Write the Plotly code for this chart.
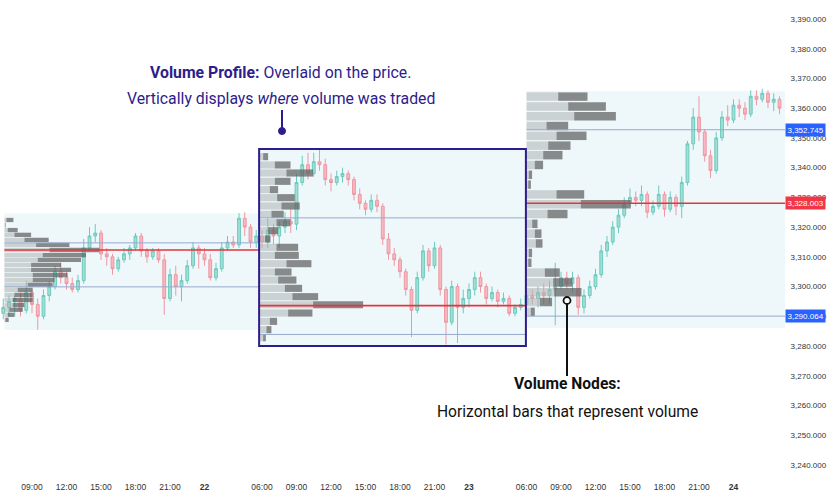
import plotly.graph_objects as go

# ---------------- data ----------------
# 30-minute bars on a trading-hour axis (each day = 23 trading hours, 01:00-24:00)
bar_hour0 = 5.5
bar_step = 0.5
opens = [3291,3293,3295,3296,3292,3298,3294,3290,3297,3300,3305,3303,3301,3299,3302,3313,3317,3318,3311,3310,
         3306,3309,3311,3313,3317,3312,3310,3312,3309,3296,3304,3300,3302,3307,3313,3311,3309,3303,3306,3313,
         3315,3314,3323,3320,3315,3317,3315,3319,3317,3320,3322,3321,3335,3341,3338,3342,3341,3336,3335,3337,
         3338,3336,3331,3328,3326,3329,3327,3316,3311,3309,3305,3299,3292,3303,3312,3307,3313,3299,3288,3300,
         3293,3296,3299,3303,3300,3296,3298,3295,3296,3291,3293,3294,3297,3296,3298,3297,3299,3300,3303,3301,
         3303,3293,3297,3300,3304,3312,3315,3320,3324,3328,3330,3329,3331,3325,3327,3331,3326,3330,3327,3335,
         3348,3357,3352,3344,3339,3350,3357,3356,3361,3360,3358,3364,3363,3365,3362,3363]
highs = [3296,3297,3297,3298,3302,3299,3296,3299,3302,3307,3308,3305,3303,3304,3316,3320,3321,3319,3313,3311,
         3310,3313,3314,3318,3318,3313,3313,3313,3311,3306,3307,3304,3309,3315,3314,3313,3311,3308,3315,3317,
         3317,3324.7,3325,3321,3319,3319,3323,3321,3322,3325,3326,3338,3344,3345,3345,3346,3343,3338,3339,3340,
         3339,3337,3333,3329,3331,3331,3328,3318,3313,3310,3306,3300,3305,3314,3313,3315,3314,3300,3302,3301,
         3299,3301,3305,3305,3301,3300,3299,3298,3297,3294,3296,3299,3299,3300,3301,3302,3308,3305,3305,3305,
         3304,3299,3302,3306,3314,3317,3322,3326,3330,3333,3332,3334,3332,3329,3334,3332,3332,3331,3337,3349,
         3360,3364,3353,3346,3352,3359,3361,3363,3363,3362,3366,3366,3366.5,3366,3365,3364]
lows = [3289,3290,3290,3290,3291,3291,3285.5,3289,3295,3299,3301,3299,3298,3298,3301,3312,3315,3309,3307,3304,
        3305,3308,3309,3312,3310,3308,3309,3308,3290.5,3295,3297,3295,3301,3306,3306,3307,3302,3302,3305,3312,
        3313,3313,3317,3313,3313,3313,3313,3314,3313,3318,3318,3319,3334,3336,3337,3339,3334,3332,3334,3335,
        3334,3329,3326,3324,3325,3325,3314,3309,3307,3303,3297,3283,3291,3302,3305,3306,3297,3280.5,3287,3281,
        3291,3293,3297,3298,3294,3295,3293,3294,3290,3290,3292,3293,3294,3293,3294,3294,3287,3299,3299,3298,
        3290.5,3291,3296,3299,3303,3310,3314,3318,3323,3327,3327,3327,3323,3324,3326,3323.5,3325,3324,3323,3334,
        3346,3349,3342,3336.5,3338,3349,3354,3355,3357,3356,3357,3361,3362,3360,3359,3358]
closes = [3293,3295,3296,3292,3298,3294,3290,3297,3300,3305,3303,3301,3299,3302,3313,3317,3318,3311,3310,3306,
          3309,3311,3313,3317,3312,3310,3312,3309,3296,3304,3300,3302,3307,3313,3311,3309,3303,3306,3313,3315,
          3314,3323,3320,3315,3317,3315,3319,3317,3320,3322,3321,3335,3341,3338,3342,3341,3336,3335,3337,3338,
          3336,3331,3328,3326,3329,3327,3316,3311,3309,3305,3299,3292,3303,3312,3307,3313,3299,3288,3300,3293,
          3296,3299,3303,3300,3296,3298,3295,3296,3291,3293,3294,3297,3296,3298,3297,3299,3300,3303,3301,3303,
          3293,3297,3300,3304,3312,3315,3320,3324,3328,3330,3329,3331,3325,3327,3331,3326,3330,3327,3335,3348,
          3357,3352,3344,3339,3350,3357,3356,3361,3360,3358,3364,3363,3365,3362,3363,3360]

tick_labels = ["09:00","12:00","15:00","18:00","21:00","<b>22</b>",
               "06:00","09:00","12:00","15:00","18:00","21:00","<b>23</b>",
               "06:00","09:00","12:00","15:00","18:00","21:00","<b>24</b>"]
tick_hours = [8,11,14,17,20,23,28,31,34,37,40,43,46,51,54,57,60,63,66,69]
price_ticks = [3240,3250,3260,3270,3280,3290,3300,3310,3320,3330,3340,3350,3360,3370,3380,3390]

session_start = [5.6, 27.75, 51.0]
session_end = [27.7, 50.95, 73.48]
session_high = [3324.7, 3346.3, 3365.8]
session_low = [3285.4, 3280.0, 3286.1]
poc = [3312.3, 3293.6, 3328.003]
vah = [3314.7, 3323.1, 3352.745]
val = [3299.9, 3283.9, 3290.064]

vp1_price = [3322.4,3320.7,3319.0,3317.4,3315.7,3314.0,3312.3,3310.6,3309.0,3307.3,3305.6,3303.9,3302.2,
             3300.6,3298.9,3297.2,3295.5,3293.8,3292.2,3290.5,3288.8]
vp1_up = [2,1,3.3,10,20,31.7,45,38.3,33.3,26.7,26.7,28.3,28.3,23.3,13.3,10,8.3,8.3,5,3.3,1]
vp1_down = [7,0.5,10,16.7,24.3,33.3,50,43.3,43.3,30,40,35,21.7,25,15,18.3,20,11.7,13.3,6.7,3.3]

vp2_price = [3343.7,3340.9,3338.2,3335.4,3332.6,3329.9,3327.1,3324.3,3321.5,3318.8,3316.0,3313.2,3310.5,
             3307.7,3304.9,3302.2,3299.4,3296.6,3293.9,3291.1,3288.3,3285.5,3282.8]
vp2_up = [4,15.7,27.3,15.7,10.7,18,22.3,12.3,17.3,9,5.7,17.3,15.7,27.3,15.7,19,25.7,33.3,54,29,10.7,7.3,4]
vp2_down = [5,15.7,26.7,15.7,8.3,17.7,18.3,12.3,14,10,5.7,21.7,24,25,16.7,18.3,17.3,25.7,50,24.3,7.3,5,2.7]

vp3_price = [3363.9,3360.6,3357.3,3354.0,3350.7,3347.4,3344.2,3340.9,3337.6,3334.3,3331.0,3327.7,3324.4,
             3321.1,3317.8,3314.5,3311.3,3308.0,3304.7,3301.4,3298.1,3294.8,3291.5]
vp3_up = [31.7,41.7,47.7,20,30,21.7,16.7,8.3,2.3,1.7,30,54.3,21,5.7,8.3,9.3,2.3,1.7,18.3,26.7,27.7,13.3,4.3]
vp3_down = [29.3,37.7,41.7,21.7,30,22.3,19.3,8.3,3.3,2.7,27.7,50,20,5.3,6.7,6.7,3.3,3.3,15,19.3,27.3,12.3,4]

# ---------------- figure ----------------
W, H = 829, 500
ML, MR, MT, MB = 0, 44, 0, 25
PW, PH = W - ML - MR, H - MT - MB
x_range = [5.217, 73.48]
y_range = [3236.62, 3396.39]

xs = [bar_hour0 + bar_step * i for i in range(len(closes))]

fig = go.Figure()
fig.add_trace(go.Candlestick(
    x=xs, open=opens, high=highs, low=lows, close=closes,
    increasing=dict(line=dict(color="#6ccabd", width=1), fillcolor="#a3ded5"),
    decreasing=dict(line=dict(color="#ee97a2", width=1), fillcolor="#f7b8c0"),
    whiskerwidth=0, hoverinfo="skip", showlegend=False))

profiles = [(vp1_price, vp1_up, vp1_down, 1.45),
            (vp2_price, vp2_up, vp2_down, 2.4),
            (vp3_price, vp3_up, vp3_down, 2.85)]
extra_axes = {}
for i, (pr, up, dn, thick) in enumerate(profiles):
    axname = "x%d" % (i + 2)
    sp = (session_start[i] - x_range[0]) / (x_range[1] - x_range[0]) * PW
    extra_axes["xaxis%d" % (i + 2)] = dict(overlaying="x", range=[-sp, PW - sp], visible=False)
    fig.add_trace(go.Bar(y=pr, x=up, orientation="h", xaxis=axname, yaxis="y", width=thick,
                         marker=dict(color="rgba(175,178,180,0.55)", line_width=0),
                         hoverinfo="skip", showlegend=False))
    fig.add_trace(go.Bar(y=pr, x=dn, base=up, orientation="h", xaxis=axname, yaxis="y", width=thick,
                         marker=dict(color="rgba(95,95,95,0.72)", line_width=0),
                         hoverinfo="skip", showlegend=False))

shapes = []
for i in range(3):
    shapes.append(dict(type="rect", xref="x", yref="y", x0=session_start[i], x1=session_end[i],
                       y0=session_low[i], y1=session_high[i], fillcolor="#eef8fb",
                       line=dict(width=0), layer="below"))
for i in range(3):
    for lvl, col, wd in ((vah[i], "#98a9cf", 1), (val[i], "#98a9cf", 1), (poc[i], "#e3343f", 1.6)):
        shapes.append(dict(type="line", xref="x", yref="y", x0=session_start[i], x1=session_end[i],
                           y0=lvl, y1=lvl, line=dict(color=col, width=wd), layer="above"))
shapes.append(dict(type="rect", xref="x", yref="y", x0=session_start[1], x1=session_end[1],
                   y0=session_low[1], y1=session_high[1], line=dict(color="#2d1c8c", width=2),
                   fillcolor="rgba(0,0,0,0)", layer="above"))

def px2p(px, py):
    return (px - ML) / PW, 1 - (py - MT) / PH

navy = "#2d1c8c"
# pointer for "Volume Profile"
a, b = px2p(282, 110); c, d = px2p(282, 129)
shapes.append(dict(type="line", xref="paper", yref="paper", x0=a, y0=b, x1=c, y1=d, line=dict(color=navy, width=2)))
a, b = px2p(278.5, 127.5); c, d = px2p(285.5, 134.5)
shapes.append(dict(type="circle", xref="paper", yref="paper", x0=a, y0=b, x1=c, y1=d, fillcolor=navy, line=dict(color=navy, width=1)))
# pointer for "Volume Nodes"
a, b = px2p(567, 304); c, d = px2p(567, 376)
shapes.append(dict(type="line", xref="paper", yref="paper", x0=a, y0=b, x1=c, y1=d, line=dict(color="#111111", width=2)))
a, b = px2p(563.5, 297); c, d = px2p(570.5, 304)
shapes.append(dict(type="circle", xref="paper", yref="paper", x0=a, y0=b, x1=c, y1=d, fillcolor="white", line=dict(color="#111111", width=1.8)))

txtfont = "Roboto, sans-serif"
ann = []
x, y = px2p(280, 73)
ann.append(dict(xref="paper", yref="paper", x=x, y=y, showarrow=False, xanchor="center", yanchor="middle",
                text="<b>Volume Profile:</b> Overlaid on the price.", font=dict(family=txtfont, size=15.8, color=navy)))
x, y = px2p(281, 98)
ann.append(dict(xref="paper", yref="paper", x=x, y=y, showarrow=False, xanchor="center", yanchor="middle",
                text="Vertically displays <i>where</i> volume was traded", font=dict(family=txtfont, size=15.8, color=navy)))
x, y = px2p(567, 384)
ann.append(dict(xref="paper", yref="paper", x=x, y=y, showarrow=False, xanchor="center", yanchor="middle",
                text="<b>Volume Nodes:</b>", font=dict(family=txtfont, size=15.6, color="#111111")))
x, y = px2p(567, 412)
ann.append(dict(xref="paper", yref="paper", x=x, y=y, showarrow=False, xanchor="center", yanchor="middle",
                text="Horizontal bars that represent volume", font=dict(family=txtfont, size=15.6, color="#111111")))
for lvl, col in ((vah[2], "#2962ff"), (poc[2], "#f23645"), (val[2], "#2962ff")):
    ann.append(dict(xref="paper", yref="y", x=1, y=lvl, showarrow=False, xanchor="left", yanchor="middle",
                    xshift=0, text=f"{lvl:,.3f}", bgcolor=col, borderpad=1.5,
                    font=dict(family="Liberation Sans, Arial", size=8, color="white")))

fig.update_layout(
    width=W, height=H, margin=dict(l=ML, r=MR, t=MT, b=MB),
    paper_bgcolor="white", plot_bgcolor="white", barmode="overlay", showlegend=False,
    hovermode=False, shapes=shapes, annotations=ann,
    xaxis=dict(range=x_range, tickvals=tick_hours, ticktext=tick_labels, showgrid=False, zeroline=False,
               showline=False, ticks="outside", ticklen=4, tickcolor="rgba(0,0,0,0)",
               tickfont=dict(family="Liberation Sans Narrow, Liberation Sans, Arial", size=8.5, color="#333333"),
               rangeslider=dict(visible=False), fixedrange=True),
    yaxis=dict(range=y_range, side="right", tickvals=price_ticks, tickformat=",.3f", showgrid=False,
               zeroline=False, showline=False, ticks="outside", ticklen=3, tickcolor="rgba(0,0,0,0)",
               tickfont=dict(family="Liberation Sans, Arial", size=8, color="#333333"), fixedrange=True),
    **extra_axes)

fig.write_html("out.html", config={"displayModeBar": False},
               post_script="document.body.style.margin='0px';document.body.style.padding='0px';")
